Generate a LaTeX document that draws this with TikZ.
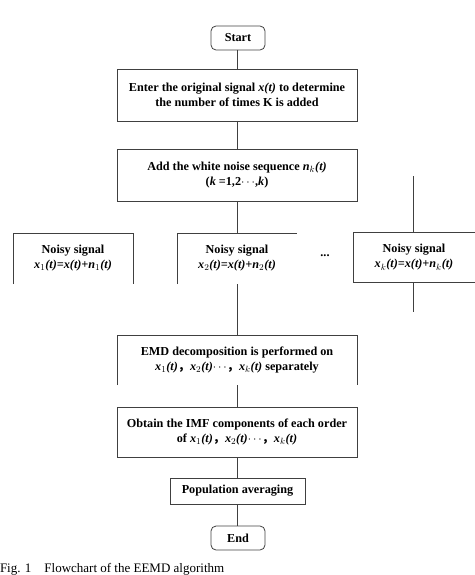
\documentclass[tikz,border=0pt]{standalone}
\usepackage{fontspec}
\setmainfont{Liberation Serif}
\newfontfamily\cjk{Noto Sans CJK SC}
\begin{document}
\begin{tikzpicture}[x=1pt,y=-1pt,
  every node/.style={inner sep=0pt,outer sep=0pt},
  line/.style={draw=black!75,line width=0.8pt},
  txt/.style={font=\bfseries\fontsize{12.2}{15}\selectfont,align=center},
  box/.style={txt,line,minimum width=240pt,minimum height=52pt},
  openbox/.style={txt,minimum width=120pt,minimum height=51pt},
  term/.style={txt,line,rounded corners=5pt,minimum width=54pt,minimum height=24pt}]
\useasboundingbox (0,0) rectangle (474,575);
\node[term] (start) at (238,38) {Start};
\node[box] (b1) at (237,95) {Enter the original signal \textit{x(t)} to determine\\the number of times K is added};
\node[box] (b2) at (237,175) {Add the white noise sequence \textit{n$_k$(t)}\\(\textit{k} =1,2$\cdots$,\textit{k})};
\node[openbox] (n1) at (73,258.5) {Noisy signal\\\textit{x$_1$(t)=x(t)+n$_1$(t)}};
\node[openbox] (n2) at (237,258.5) {Noisy signal\\\textit{x$_2$(t)=x(t)+n$_2$(t)}};
\node[txt] (dots) at (325,256) {...};
\node[openbox,minimum width=122pt,minimum height=50pt] (nk) at (414,257.5) {Noisy signal\\\textit{x$_k$(t)=x(t)+n$_k$(t)}};
\node[box,draw=none,minimum height=50pt] (emd) at (237,360) {EMD decomposition is performed on\\\textit{x$_1$(t)}{\cjk ，}\textit{x$_2$(t)}$\cdots${\cjk ，}\textit{x$_k$(t)} separately};
\node[box,minimum height=50pt] (imf) at (237,432) {Obtain the IMF components of each order\\of \textit{x$_1$(t)}{\cjk ，}\textit{x$_2$(t)}$\cdots${\cjk ，}\textit{x$_k$(t)}};
\node[box,minimum width=135pt,minimum height=26pt] (pop) at (237.5,491) {Population averaging};
\node[term] (end) at (238,538) {End};
\node[font=\fontsize{13}{15}\selectfont,anchor=base west] (cap) at (0,572) {Fig. 1\quad Flowchart of the EEMD algorithm};
% partial boxes
\draw[line] (n1.south west) -- (n1.north west) -- (n1.north east) -- (n1.south east);
\draw[line] (n2.south west) -- (n2.north west) -- (n2.north east);
\draw[line] (nk.south east) -- (nk.south west) -- (nk.north west) -- (nk.north east);
\draw[line] (emd.south west) -- (emd.north west) -- (emd.north east) -- (emd.south east);
% connectors
\coordinate (kin) at (413,176);
\coordinate (kout) at (413,312);
\draw[line] (start.south -| b1.north) -- (b1.north);
\draw[line] (b1) -- (b2);
\draw[line] (b2.south) -- (n2.north);
\draw[line] (n2.south) -- (emd.north);
\draw[line] (kin) -- (kin |- nk.north);
\draw[line] (kin |- nk.south) -- (kout);
\draw[line] (emd.south) -- (imf.north);
\draw[line] (imf.south) -- (pop.north -| imf.south);
\draw[line] (pop.south -| imf.south) -- (end.north -| imf.south);
\end{tikzpicture}
\end{document}
